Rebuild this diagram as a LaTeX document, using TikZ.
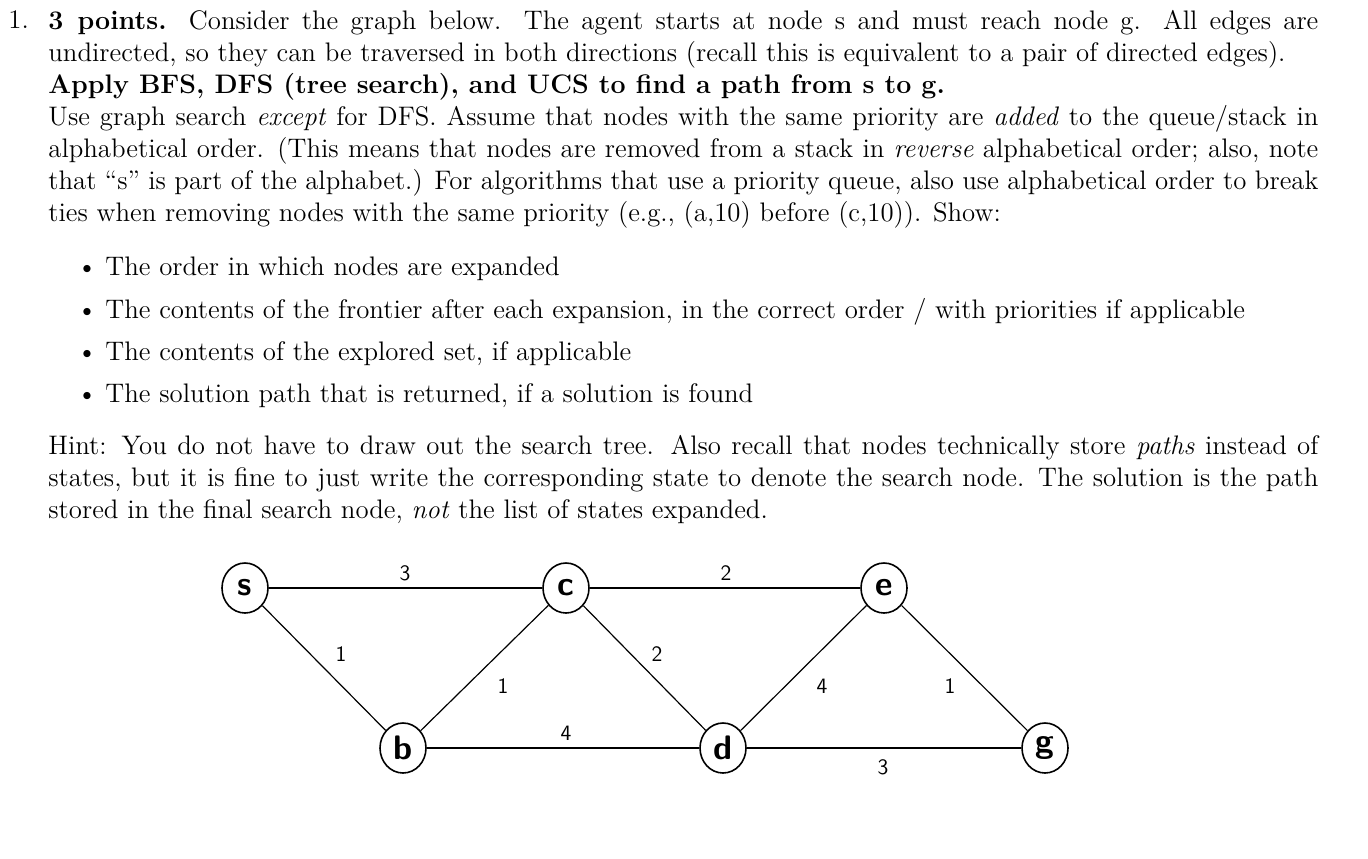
\documentclass[tikz,border=0pt]{standalone}
\usetikzlibrary{shapes.geometric}
\begin{document}
\begin{tikzpicture}[x=0.5pt,y=-0.5pt,
  gn/.style={draw,ellipse,line width=0.8pt,minimum width=23pt,minimum height=25pt,inner sep=0pt,font=\sffamily\bfseries\fontsize{17}{17}\selectfont},
  el/.style={font=\sffamily\fontsize{11}{11}\selectfont},
  ed/.style={line width=0.6pt},
  para/.style={anchor=north west,inner sep=0pt,text width=635pt,align=justify,font=\fontsize{13.4}{16}\selectfont}]
\useasboundingbox (0,0) rectangle (1368,858);
\node[para,text width=20pt,align=left] (num) at (8,10) {1.};
\node[para] (p1) at (48,10) {\textbf{3 points.} Consider the graph below. The agent starts at node s and must reach node g. All edges are\linebreak
undirected, so they can be traversed in both directions (recall this is equivalent to a pair of directed edges).\\
\textbf{Apply BFS, DFS (tree search), and UCS to find a path from s to g.}\\
Use graph search \emph{except} for DFS. Assume that nodes with the same priority are \emph{added} to the queue/stack in\linebreak
alphabetical order. (This means that nodes are removed from a stack in \emph{reverse} alphabetical order; also, note\linebreak
that ``s'' is part of the alphabet.) For algorithms that use a priority queue, also use alphabetical order to break\linebreak
ties when removing nodes with the same priority (e.g., (a,10) before (c,10)). Show:\par};
\foreach \t/\yy [count=\i] in {{The order in which nodes are expanded}/267,{The contents of the frontier after each expansion, in the correct order / with priorities if applicable}/310,{The contents of the explored set, if applicable}/352,{The solution path that is returned, if a solution is found}/394}{
  \node[anchor=base,inner sep=0pt,font=\fontsize{13.4}{16}\selectfont] (bul\i) at (87,\yy+8) {\textbullet};
  \node[anchor=base west,inner sep=0pt,font=\fontsize{13.4}{16}\selectfont] (it\i) at (105,\yy+8) {\t};
}
\node[para] (p2) at (48,435) {Hint: You do not have to draw out the search tree. Also recall that nodes technically store \emph{paths} instead of\linebreak
states, but it is fine to just write the corresponding state to denote the search node. The solution is the path\linebreak
stored in the final search node, \emph{not} the list of states expanded.\par};
\node[gn] (s) at (245,588) {s};
\node[gn] (c) at (566,588) {c};
\node[gn] (e) at (884,588) {e};
\node[gn] (b) at (403,748) {b};
\node[gn] (d) at (723,748) {d};
\node[gn] (g) at (1045,748) {g};
\draw[ed] (s)--(c); \draw[ed] (c)--(e); \draw[ed] (s)--(b); \draw[ed] (b)--(c);
\draw[ed] (c)--(d); \draw[ed] (b)--(d); \draw[ed] (d)--(e); \draw[ed] (e)--(g); \draw[ed] (d)--(g);
\node[el] (l1) at (405,573) {3};
\node[el] (l2) at (726,573) {2};
\node[el] (l3) at (341,654) {1};
\node[el] (l4) at (657,654) {2};
\node[el] (l5) at (503,686) {1};
\node[el] (l6) at (822,686) {4};
\node[el] (l7) at (950,686) {1};
\node[el] (l8) at (566,733) {4};
\node[el] (l9) at (883,767) {3};
\end{tikzpicture}
\end{document}
